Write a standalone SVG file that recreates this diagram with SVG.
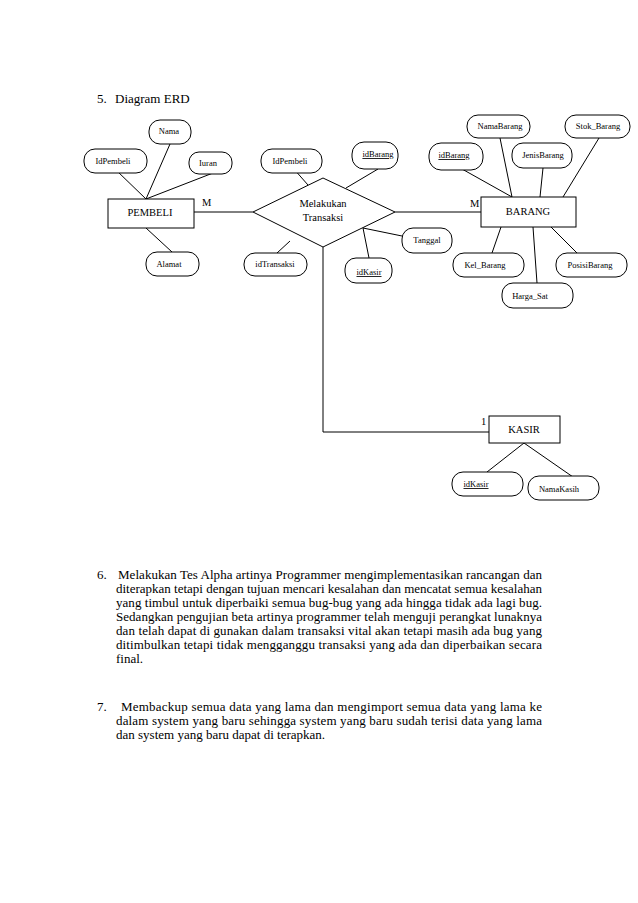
<svg xmlns="http://www.w3.org/2000/svg" width="638" height="903" viewBox="0 0 638 903">
<style>
text{font-family:"Liberation Serif","Times New Roman",serif;fill:#000}
.attr{font-size:8.5px;text-anchor:middle}
.u{text-decoration:underline}
.ent{font-size:10.5px;text-anchor:middle}
.lbl{font-size:10.5px}
.body{font-size:13px}
.pill{fill:#fff;stroke:#000;stroke-width:1}
.box{fill:#fff;stroke:#000;stroke-width:1}
.ln{stroke:#000;stroke-width:1;fill:none}
</style>
<rect width="638" height="903" fill="#fff"/>
<text class="body" x="97" y="103">5.</text>
<text class="body" x="115" y="103">Diagram ERD</text>

<g id="connectors">
<line class="ln" x1="194" y1="212" x2="253" y2="212"/>
<line class="ln" x1="395" y1="212" x2="481" y2="212"/>
<polyline class="ln" points="323,247 323,432 489,432"/>
<line class="ln" x1="116" y1="170" x2="146" y2="199"/>
<line class="ln" x1="170" y1="144" x2="146" y2="199"/>
<line class="ln" x1="213" y1="173" x2="146" y2="199"/>
<line class="ln" x1="146" y1="228" x2="172" y2="252"/>
<line class="ln" x1="277" y1="253" x2="290" y2="241"/>
<line class="ln" x1="293" y1="168" x2="308" y2="185"/>
<line class="ln" x1="346" y1="188" x2="378" y2="169"/>
<line class="ln" x1="363" y1="228" x2="402" y2="236"/>
<line class="ln" x1="363" y1="228" x2="369" y2="258"/>
<line class="ln" x1="500" y1="138" x2="512" y2="197"/>
<line class="ln" x1="462" y1="169" x2="512" y2="197"/>
<line class="ln" x1="543" y1="168" x2="540" y2="197"/>
<line class="ln" x1="599" y1="138" x2="563" y2="197"/>
<line class="ln" x1="501" y1="227" x2="492" y2="253"/>
<line class="ln" x1="533" y1="227" x2="537" y2="283"/>
<line class="ln" x1="551" y1="227" x2="577" y2="253"/>
<line class="ln" x1="524" y1="443" x2="487" y2="472"/>
<line class="ln" x1="524" y1="443" x2="573" y2="477"/>
</g>

<g id="pembeli">
<rect class="box" x="108" y="199" width="86" height="29"/>
<text class="ent" x="150" y="216">PEMBELI</text>
</g>
<g id="melakukan-transaksi">
<polygon class="box" points="253,212 323,178 395,212 323,247"/>
<text class="ent" x="323" y="207">Melakukan</text>
<text class="ent" x="323" y="221">Transaksi</text>
</g>
<g id="barang">
<rect class="box" x="481" y="197" width="95" height="30"/>
<text class="ent" x="528" y="215">BARANG</text>
</g>
<g id="kasir">
<rect class="box" x="489" y="416" width="71" height="27"/>
<text class="ent" x="524" y="433">KASIR</text>
</g>

<g id="labels">
<text class="lbl" x="202" y="206">M</text>
<text class="lbl" x="470" y="207">M</text>
<text class="lbl" x="481" y="425">1</text>
</g>

<g id="attr-nama"><rect class="pill" x="149" y="120" width="42" height="24" rx="11"/><text class="attr" x="169" y="134">Nama</text></g>
<g id="attr-idpembeli"><rect class="pill" x="84" y="149" width="63" height="24" rx="11"/><text class="attr" x="113" y="164">IdPembeli</text></g>
<g id="attr-iuran"><rect class="pill" x="189" y="152" width="43" height="22" rx="10"/><text class="attr" x="208" y="166">Iuran</text></g>
<g id="attr-alamat"><rect class="pill" x="146" y="252" width="53" height="24" rx="11"/><text class="attr" x="169" y="267">Alamat</text></g>
<g id="attr-idtransaksi"><rect class="pill" x="244" y="253" width="63" height="23" rx="11"/><text class="attr" x="275" y="267">idTransaksi</text></g>
<g id="attr-idpembeli-rel"><rect class="pill" x="261" y="149" width="61" height="24" rx="11"/><text class="attr" x="290" y="164">IdPembeli</text></g>
<g id="attr-idbarang-rel"><rect class="pill" x="352" y="142" width="46" height="27" rx="12"/><text class="attr u" x="378" y="157">idBarang</text></g>
<g id="attr-tanggal"><rect class="pill" x="402" y="228" width="50" height="25" rx="11"/><text class="attr" x="427" y="243">Tanggal</text></g>
<g id="attr-idkasir-rel"><rect class="pill" x="345" y="258" width="47" height="25" rx="11"/><text class="attr u" x="369" y="275">idKasir</text></g>
<g id="attr-idbarang"><rect class="pill" x="429" y="143" width="54" height="27" rx="12"/><text class="attr u" x="454" y="158">idBarang</text></g>
<g id="attr-namabarang"><rect class="pill" x="467" y="115" width="63" height="23" rx="11"/><text class="attr" x="500" y="129">NamaBarang</text></g>
<g id="attr-stokbarang"><rect class="pill" x="565" y="115" width="65" height="23" rx="11"/><text class="attr" x="598" y="129">Stok_Barang</text></g>
<g id="attr-jenisbarang"><rect class="pill" x="512" y="143" width="60" height="25" rx="11"/><text class="attr" x="543" y="158">JenisBarang</text></g>
<g id="attr-kelbarang"><rect class="pill" x="453" y="253" width="71" height="24" rx="11"/><text class="attr" x="485" y="268">Kel_Barang</text></g>
<g id="attr-posisibarang"><rect class="pill" x="556" y="253" width="71" height="24" rx="11"/><text class="attr" x="590" y="268">PosisiBarang</text></g>
<g id="attr-hargasat"><rect class="pill" x="502" y="283" width="71" height="25" rx="11"/><text class="attr" x="530" y="299">Harga_Sat</text></g>
<g id="attr-idkasir"><rect class="pill" x="452" y="472" width="71" height="24" rx="11"/><text class="attr u" x="476" y="487">idKasir</text></g>
<g id="attr-namakasih"><rect class="pill" x="528" y="476" width="71" height="24" rx="11"/><text class="attr" x="559" y="492">NamaKasih</text></g>

<g id="paragraph-6">
<text class="body" x="97" y="579">6.</text>
<text class="body" x="118" y="579" textLength="424" lengthAdjust="spacing">Melakukan Tes Alpha artinya  Programmer mengimplementasikan rancangan dan</text>
<text class="body" x="116" y="593" textLength="426" lengthAdjust="spacing">diterapkan tetapi dengan tujuan mencari kesalahan dan mencatat semua kesalahan</text>
<text class="body" x="116" y="607" textLength="426" lengthAdjust="spacing">yang timbul untuk diperbaiki semua bug-bug yang ada hingga tidak ada lagi bug.</text>
<text class="body" x="116" y="621" textLength="426" lengthAdjust="spacing">Sedangkan pengujian beta artinya programmer telah menguji perangkat lunaknya</text>
<text class="body" x="116" y="635" textLength="426" lengthAdjust="spacing">dan telah dapat di gunakan dalam transaksi vital akan tetapi masih ada bug yang</text>
<text class="body" x="116" y="649" textLength="426" lengthAdjust="spacing">ditimbulkan tetapi tidak mengganggu transaksi yang ada dan diperbaikan secara</text>
<text class="body" x="116" y="663">final.</text>
</g>
<g id="paragraph-7">
<text class="body" x="97" y="711">7.</text>
<text class="body" x="121" y="711" textLength="421" lengthAdjust="spacing">Membackup semua data yang lama dan mengimport semua data yang lama ke</text>
<text class="body" x="116" y="725" textLength="426" lengthAdjust="spacing">dalam system yang baru sehingga system yang baru sudah terisi data yang lama</text>
<text class="body" x="116" y="739">dan system yang baru dapat di terapkan.</text>
</g>
</svg>
